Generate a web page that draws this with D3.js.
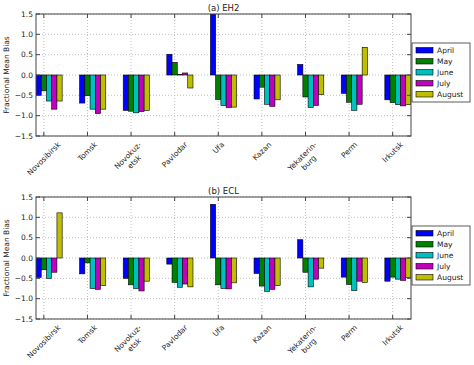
<!DOCTYPE html>
<html>
<head>
<meta charset="utf-8">
<script src="https://cdn.jsdelivr.net/npm/d3@7"></script>
<style>
  body { margin: 0; background: #fff; }
  text { font-family: "DejaVu Sans", sans-serif; fill: #222; }
  .grid line { stroke: #b0b0b0; stroke-dasharray: 1,2; stroke-width: 0.8; }
</style>
</head>
<body>
<script>
//stations along the x axis
var stations = ["Novosibirsk", "Tomsk", "Novokuz-\netsk", "Pavlodar", "Ufa",
                "Kazan", "Yekaterin-\nburg", "Perm", "Irkutsk"];
var months = ["April", "May", "June", "July", "August"];
var monthColors = ["#0000ff", "#008000", "#00bfbf", "#bf00bf", "#bfbf00"];
var yTicks = [-1.5, -1.0, -0.5, 0.0, 0.5, 1.0, 1.5];

//(a) EH2 values, one array per month
var eh2April  = [-0.50, -0.69, -0.87, 0.51, 1.50, -0.59, 0.26, -0.45, -0.61];
var eh2May    = [-0.39, -0.51, -0.89, 0.31, -0.60, -0.30, -0.54, -0.67, -0.68];
var eh2June   = [-0.64, -0.84, -0.93, 0.01, -0.75, -0.72, -0.80, -0.87, -0.73];
var eh2July   = [-0.84, -0.95, -0.90, 0.05, -0.80, -0.77, -0.75, -0.72, -0.76];
var eh2August = [-0.64, -0.84, -0.87, -0.32, -0.79, -0.61, -0.48, 0.68, -0.73];

//(b) ECL values
var eclApril  = [-0.48, -0.39, -0.50, -0.15, 1.32, -0.38, 0.45, -0.47, -0.57];
var eclMay    = [-0.29, -0.12, -0.66, -0.60, -0.66, -0.69, -0.35, -0.65, -0.47];
var eclJune   = [-0.50, -0.75, -0.75, -0.72, -0.75, -0.82, -0.71, -0.80, -0.52];
var eclJuly   = [-0.35, -0.77, -0.81, -0.64, -0.76, -0.77, -0.52, -0.57, -0.55];
var eclAugust = [1.11, -0.68, -0.57, -0.71, -0.61, -0.68, -0.25, -0.60, -0.48];

var width = 474, height = 365;
var barW = 0.12; //bar width in category units

var svg = d3.select("body").append("svg")
    .attr("width", width)
    .attr("height", height);

var fmt = function(d){ return d3.format(".1f")(d).replace("-", "\u2212"); };

function drawPanel(series, top, title, id){
    var left = 36, right = 411, bottom = top + 122;

    var x = d3.scaleLinear()
        .domain([0, stations.length - 1 + 5 * barW])
        .range([left, right]);
    var y = d3.scaleLinear()
        .domain([-1.5, 1.5])
        .range([bottom, top]);

    var g = svg.append("g");

    //clip so bars stay inside the frame
    g.append("clipPath").attr("id", id)
      .append("rect")
        .attr("x", left).attr("y", top)
        .attr("width", right - left).attr("height", bottom - top);

    //dotted grid
    var grid = g.append("g").attr("class", "grid");
    grid.selectAll(".hg").data(yTicks).enter().append("line")
        .attr("x1", left).attr("x2", right)
        .attr("y1", function(d){ return y(d); })
        .attr("y2", function(d){ return y(d); });
    grid.selectAll(".vg").data(stations).enter().append("line")
        .attr("x1", function(d, i){ return x(i + 1.5 * barW); })
        .attr("x2", function(d, i){ return x(i + 1.5 * barW); })
        .attr("y1", top).attr("y2", bottom);

    //bars
    var bars = g.append("g").attr("clip-path", "url(#" + id + ")");
    series.forEach(function(vals, k){
        bars.selectAll(".b" + k).data(vals).enter().append("rect")
            .attr("x", function(d, i){ return x(i + k * barW); })
            .attr("width", x(barW) - x(0))
            .attr("y", function(d){ return y(Math.max(0, d)); })
            .attr("height", function(d){ return Math.abs(y(d) - y(0)); })
            .attr("fill", monthColors[k])
            .attr("stroke", "#000")
            .attr("stroke-width", 0.6);
    });

    //frame
    g.append("rect")
        .attr("x", left).attr("y", top)
        .attr("width", right - left).attr("height", bottom - top)
        .attr("fill", "none").attr("stroke", "#444").attr("stroke-width", 1);

    //inward tick marks
    yTicks.forEach(function(t){
        g.append("line").attr("x1", left).attr("x2", left + 4)
            .attr("y1", y(t)).attr("y2", y(t)).attr("stroke", "#444");
        g.append("line").attr("x1", right - 4).attr("x2", right)
            .attr("y1", y(t)).attr("y2", y(t)).attr("stroke", "#444");
    });
    stations.forEach(function(s, i){
        var tx = x(i + 1.5 * barW);
        g.append("line").attr("x1", tx).attr("x2", tx)
            .attr("y1", bottom).attr("y2", bottom - 4).attr("stroke", "#444");
        g.append("line").attr("x1", tx).attr("x2", tx)
            .attr("y1", top).attr("y2", top + 4).attr("stroke", "#444");
    });

    //y tick labels
    g.selectAll(".yl").data(yTicks).enter().append("text")
        .attr("x", left - 3)
        .attr("y", function(d){ return y(d); })
        .attr("dy", "0.35em")
        .attr("text-anchor", "end")
        .attr("font-size", "7.5px")
        .text(fmt);

    //rotated station labels, rotated box centred on the tick
    var fs = 7.5, lh = fs * 1.2;
    stations.forEach(function(s, i){
        var tx = x(i + 1.5 * barW);
        var lines = s.split("\n");
        var lab = g.append("g");
        var maxW = 0;
        lines.forEach(function(line, j){
            var t = lab.append("text")
                .attr("text-anchor", "middle")
                .attr("y", (j - (lines.length - 1) / 2) * lh)
                .attr("dy", "0.35em")
                .attr("font-size", fs + "px")
                .text(line);
            maxW = Math.max(maxW, t.node().getComputedTextLength());
        });
        var half = (maxW + lines.length * lh) / (2 * Math.SQRT2);
        lab.attr("transform", "translate(" + tx + "," + (bottom + 4 + half) + ") rotate(-45)");
    });

    //y axis title
    g.append("text")
        .attr("transform", "translate(9," + ((top + bottom) / 2) + ") rotate(-90)")
        .attr("text-anchor", "middle")
        .attr("font-size", "7.5px")
        .text("Fractional Mean Bias");

    //panel title
    g.append("text")
        .attr("x", (left + right) / 2)
        .attr("y", top - 3)
        .attr("text-anchor", "middle")
        .attr("font-size", "8.5px")
        .text(title);

    //legend
    var lx = 412, ly = top + 29;
    var leg = g.append("g");
    leg.append("rect")
        .attr("x", lx).attr("y", ly)
        .attr("width", 58).attr("height", 59)
        .attr("fill", "#fff").attr("stroke", "#333").attr("stroke-width", 0.8);
    months.forEach(function(m, k){
        var ry = ly + 7 + k * 11;
        leg.append("rect")
            .attr("x", lx + 4).attr("y", ry - 2.5)
            .attr("width", 17).attr("height", 5.5)
            .attr("fill", monthColors[k]).attr("stroke", "#000").attr("stroke-width", 0.6);
        leg.append("text")
            .attr("x", lx + 25).attr("y", ry)
            .attr("dy", "0.35em")
            .attr("font-size", "7.5px")
            .text(m);
    });
}

drawPanel([eh2April, eh2May, eh2June, eh2July, eh2August], 14, "(a) EH2", "clipA");
drawPanel([eclApril, eclMay, eclJune, eclJuly, eclAugust], 197, "(b) ECL", "clipB");
</script>
</body>
</html>
